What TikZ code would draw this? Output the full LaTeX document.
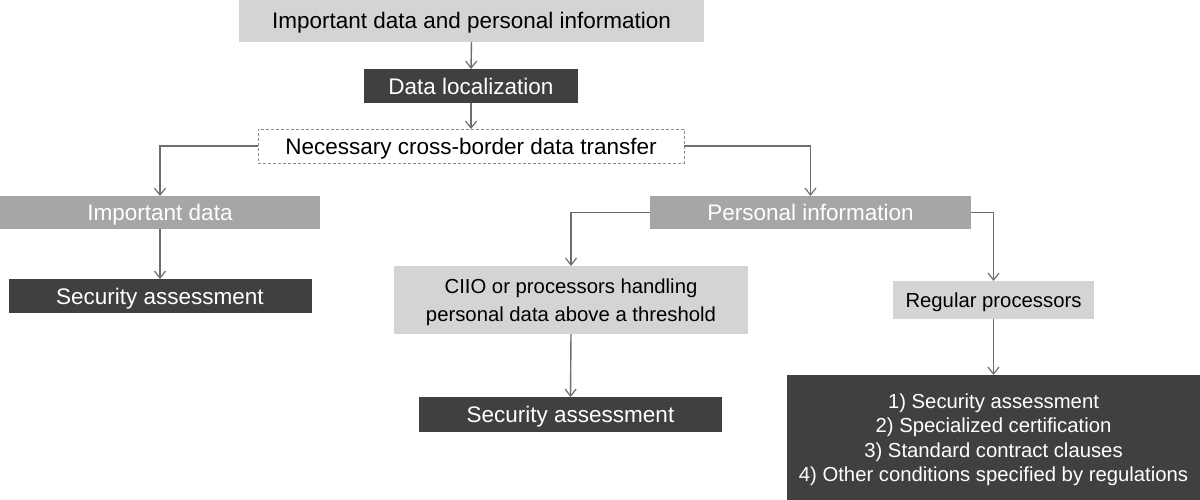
\documentclass[tikz,border=0pt]{standalone}
\usepackage{fontspec}
\setmainfont{Liberation Sans}
\usetikzlibrary{arrows.meta}
\definecolor{lightbox}{HTML}{D4D4D4}
\definecolor{midbox}{HTML}{A6A6A6}
\definecolor{darkbox}{HTML}{404040}
\definecolor{linegray}{HTML}{6E6E6E}
\definecolor{dashgray}{HTML}{8C8C8C}
\tikzset{
  base/.style={inner sep=0pt, outer sep=0pt, align=center, text depth=0pt},
  big/.style={font=\fontsize{22.5}{27}\selectfont},
  small/.style={font=\fontsize{20.3}{24.5}\selectfont},
  lightnode/.style={base, fill=lightbox, text=black},
  midnode/.style={base, fill=midbox, text=white},
  darknode/.style={base, fill=darkbox, text=white},
  dashnode/.style={base, draw=dashgray, dash pattern=on 3pt off 2pt, line width=0.9pt, fill=white, text=black},
  arr/.style={draw=linegray, line width=1.4pt, -{Straight Barb[length=7pt,width=11pt,line width=1.2pt]}},
  conn/.style={draw=linegray, line width=1.4pt},
}
\begin{document}
\begin{tikzpicture}[x=1pt,y=-1pt]
\useasboundingbox (0,0) rectangle (1200,499);
\node[lightnode, big, minimum width=465pt, minimum height=44pt] (top) at (471.5,20) {Important data and personal information};
\node[darknode, big, minimum width=214pt, minimum height=34pt] (loc) at (471,86) {Data localization};
\node[dashnode, big, minimum width=426pt, minimum height=34pt] (dash) at (471,146) {Necessary cross-border data transfer};
\node[midnode, big, minimum width=320pt, minimum height=33pt] (imp) at (160,212.5) {Important data};
\node[darknode, big, minimum width=303pt, minimum height=34pt] (sa1) at (160,296) {Security assessment};
\node[midnode, big, minimum width=321pt, minimum height=33pt] (pi) at (810.5,212.5) {Personal information};
\node[lightnode, small, minimum width=354pt, minimum height=68pt, font=\fontsize{20.3}{28}\selectfont] (ciio) at (571,300) {CIIO or processors handling\\personal data above a threshold};
\node[darknode, big, minimum width=303pt, minimum height=35pt] (sa2) at (570.5,414.5) {Security assessment};
\node[lightnode, small, minimum width=201pt, minimum height=38pt] (reg) at (993.5,300) {Regular processors};
\node[darknode, small, minimum width=413pt, minimum height=125pt] (list) at (993.5,437.5) {1) Security assessment\\2) Specialized certification\\3) Standard contract clauses\\4) Other conditions specified by regulations};
\draw[arr] (top.south) -- (loc.north);
\draw[arr] (loc.south) -- (dash.north);
\draw[arr] (dash.west) -| (imp.north);
\draw[arr] (dash.east) -| (pi.north);
\draw[arr] (imp.south) -- (sa1.north);
\draw[arr] (pi.west) -| (ciio.north);
\draw[arr] (pi.east) -| (reg.north);
\draw[arr] (ciio.south) -- (sa2.north);
\draw[arr] (reg.south) -- (list.north);
\end{tikzpicture}
\end{document}
